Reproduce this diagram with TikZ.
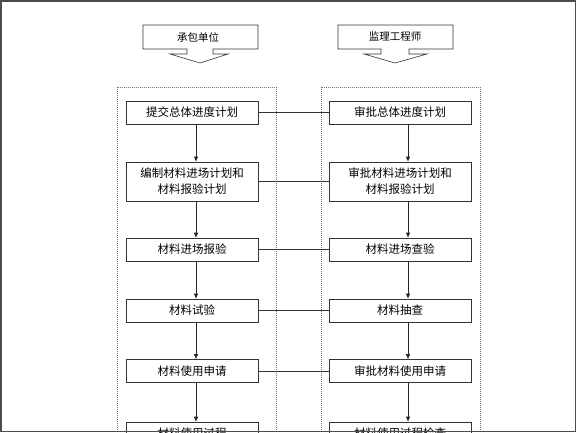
\documentclass[tikz,border=0pt]{standalone}
\usepackage{fontspec}
\newfontfamily\cjk{Noto Sans CJK SC}
\usetikzlibrary{arrows.meta}

\begin{document}
\begin{tikzpicture}[x=1pt, y=-1pt, font=\cjk\fontsize{11.5}{16}\selectfont,
    line width=0.6pt, draw=black!80,
    stepbox/.style={draw=black!80, minimum height=23pt, inner sep=1pt, align=center},
    lbox/.style={stepbox, minimum width=132pt},
    rbox/.style={stepbox, minimum width=142pt},
    flow/.style={-{Latex[length=5pt,width=4.5pt]}, draw=black!85},
    link/.style={draw=black!80},
    lane/.style={draw=black!55, line width=0.4pt, dash pattern=on 1pt off 1pt}]
    \useasboundingbox (0,0) rectangle (576,432);
    \clip (0,0) rectangle (576,432);

    % en-tetes
    \draw (143,25) -- (258,25) -- (258,49) -- (213,49) -- (213,54) -- (228,54)
      -- (200,63) -- (170,54) -- (187,54) -- (187,49) -- (143,49) -- cycle;
    \node[font=\cjk\fontsize{10.5}{12}\selectfont] (hl) at (198,37) {承包单位};
    \draw (338,25) -- (453,25) -- (453,49) -- (409,49) -- (409,54) -- (427,54)
      -- (395,63) -- (364,54) -- (381,54) -- (381,49) -- (338,49) -- cycle;
    \node[font=\cjk\fontsize{10.5}{12}\selectfont] (hr) at (395,37) {监理工程师};

    % couloirs
    \draw[lane] (117,87) rectangle (276,460);
    \draw[lane] (321,87) rectangle (480,460);

    % colonne gauche
    \node[lbox] (l1) at (192,112.5) {提交总体进度计划};
    \node[lbox, minimum height=39pt] (l2) at (192,181.5) {编制材料进场计划和\\材料报验计划};
    \node[lbox] (l3) at (192,249.5) {材料进场报验};
    \node[lbox] (l4) at (192,310.5) {材料试验};
    \node[lbox] (l5) at (192,371) {材料使用申请};
    \node[lbox] (l6) at (192,433.5) {材料使用过程};

    % colonne droite
    \node[rbox] (r1) at (400,112.5) {审批总体进度计划};
    \node[rbox, minimum height=39pt] (r2) at (400,181.5) {审批材料进场计划和\\材料报验计划};
    \node[rbox] (r3) at (400,249.5) {材料进场查验};
    \node[rbox] (r4) at (400,310.5) {材料抽查};
    \node[rbox] (r5) at (400,371) {审批材料使用申请};
    \node[rbox] (r6) at (400,433.5) {材料使用过程检查};

    \coordinate (xl) at (196,0);
    \coordinate (xr) at (408,0);
    \foreach \a/\b in {1/2,2/3,3/4,4/5,5/6} {
      \draw[flow] (l\a.south -| xl) -- (l\b.north -| xl);
      \draw[flow] (r\a.south -| xr) -- (r\b.north -| xr);
    }
    \foreach \i in {1,...,5} { \draw[link] (l\i.east) -- (r\i.west); }

    % cadre
    \draw[draw=black!70, line width=1.5pt] (0.75,0.75) rectangle (575.25,431.25);
  \end{tikzpicture}
\end{document}
